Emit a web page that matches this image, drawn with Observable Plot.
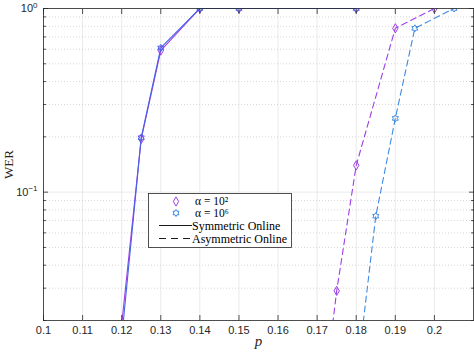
<!DOCTYPE html>
<html>
<head>
<meta charset="utf-8">
<script src="https://cdn.jsdelivr.net/npm/d3@7"></script>
<script src="https://cdn.jsdelivr.net/npm/@observablehq/plot@0.6"></script>
<style>
  html, body { margin: 0; padding: 0; background: white; }
  #chart { width: 474px; height: 355px; }
</style>
</head>
<body>
<div id="chart"></div>
<script>
// ---- Data ----
const pSym = [0.12, 0.125, 0.13, 0.14, 0.15, 0.18];
const werSymA2 = [0.019, 0.195, 0.59, 1, 1, 1];
const werSymA6 = [0.016, 0.198, 0.61, 1, 1, 1];

const pAsymA2 = [0.17, 0.175, 0.18, 0.19, 0.2];
const werAsymA2 = [0.0038, 0.029, 0.14, 0.78, 1];

const pAsymA6 = [0.18, 0.185, 0.19, 0.195, 0.205];
const werAsymA6 = [0.0093, 0.074, 0.252, 0.78, 1];

const xTicks = [0.1, 0.11, 0.12, 0.13, 0.14, 0.15, 0.16, 0.17, 0.18, 0.19, 0.2];
const xTickLabels = ["0.1", "0.11", "0.12", "0.13", "0.14", "0.15", "0.16", "0.17", "0.18", "0.19", "0.2"];
const yMajor = [0.1, 1];
const yMajorExp = ["-1", "0"];
const yMinor = [0.02, 0.03, 0.04, 0.05, 0.06, 0.07, 0.08, 0.09, 0.2, 0.3, 0.4, 0.5, 0.6, 0.7, 0.8, 0.9];

const legendAlpha = ["α = 10²", "α = 10⁶"];
const legendLabels = ["Symmetric Online", "Asymmetric Online"];

const purple = "#9b3fe6";
const blueSolid = "#4760e8";
const blueDash = "#3d8ae2";

// ---- Build table ----
function rows(ps, ws, alpha, type) { return ps.map((p, i) => ({p, wer: ws[i], alpha, type})); }
const symA2 = rows(pSym, werSymA2, "a2", "sym");
const symA6 = rows(pSym, werSymA6, "a6", "sym");
const asyA2 = rows(pAsymA2, werAsymA2, "a2", "asym");
const asyA6 = rows(pAsymA6, werAsymA6, "a6", "asym");

// hexagram symbol (six-pointed star outline)
const hexagram = {
  draw(context, size) {
    const r = Math.sqrt(size / Math.PI) * 1.25;
    const ri = r / Math.sqrt(3);
    for (let k = 0; k < 12; k++) {
      const a = -Math.PI / 2 + k * Math.PI / 6;
      const rr = k % 2 === 0 ? r : ri;
      const x = rr * Math.cos(a), y = rr * Math.sin(a);
      if (k === 0) context.moveTo(x, y); else context.lineTo(x, y);
    }
    context.closePath();
  }
};

const lineW = 1.1;
const dash = "6,4";
const serif = "'Liberation Serif', 'Times New Roman', serif";

const chart = Plot.plot({
  width: 474,
  height: 355,
  marginLeft: 43,
  marginRight: 1,
  marginTop: 8,
  marginBottom: 35,
  x: {domain: [0.1, 0.21]},
  y: {type: "log", domain: [0.02, 1]},
  style: {fontFamily: "'Liberation Sans', Arial, sans-serif", fontSize: "11px", color: "#262626", background: "white"},
  marks: [
    // grid
    Plot.gridX(xTicks, {stroke: "#e4e4e4", strokeOpacity: 1, strokeWidth: 0.8}),
    Plot.ruleY(yMinor, {stroke: "#cfcfcf", strokeWidth: 0.8, strokeDasharray: "1,2"}),
    Plot.ruleY(yMajor, {stroke: "#e4e4e4", strokeWidth: 0.8}),
    // data
    Plot.line(symA2, {x: "p", y: "wer", stroke: purple, strokeWidth: lineW, clip: true}),
    Plot.dot(symA2, {x: "p", y: "wer", symbol: "diamond", r: 2.8, stroke: purple, fill: "none", strokeWidth: 1, clip: true}),
    Plot.line(symA6, {x: "p", y: "wer", stroke: blueSolid, strokeWidth: lineW, clip: true}),
    Plot.dot(symA6, {x: "p", y: "wer", symbol: hexagram, r: 2.8, stroke: blueSolid, fill: "none", strokeWidth: 1, clip: true}),
    Plot.line(asyA2, {x: "p", y: "wer", stroke: purple, strokeWidth: lineW, strokeDasharray: dash, clip: true}),
    Plot.dot(asyA2, {x: "p", y: "wer", symbol: "diamond", r: 2.8, stroke: purple, fill: "none", strokeWidth: 1, clip: true}),
    Plot.line(asyA6, {x: "p", y: "wer", stroke: blueDash, strokeWidth: lineW, strokeDasharray: dash, clip: true}),
    Plot.dot(asyA6, {x: "p", y: "wer", symbol: hexagram, r: 2.8, stroke: blueDash, fill: "none", strokeWidth: 1, clip: true}),
    // frame
    Plot.frame({stroke: "#262626", strokeWidth: 0.8}),
    // inward ticks
    Plot.axisX(xTicks, {anchor: "bottom", tickSize: 5, dy: -5, fill: "none", label: null, strokeWidth: 0.8}),
    Plot.axisX(xTicks, {anchor: "top", tickSize: 5, dy: 5, fill: "none", label: null, strokeWidth: 0.8}),
    Plot.axisY(yMajor, {anchor: "left", tickSize: 5, dx: 5, fill: "none", label: null, strokeWidth: 0.8}),
    Plot.axisY(yMinor, {anchor: "left", tickSize: 3, dx: 3, fill: "none", label: null, strokeWidth: 0.8}),
    Plot.axisY(yMajor, {anchor: "right", tickSize: 5, dx: -5, fill: "none", label: null, strokeWidth: 0.8}),
    Plot.axisY(yMinor, {anchor: "right", tickSize: 3, dx: -3, fill: "none", label: null, strokeWidth: 0.8}),
    // tick labels
    Plot.axisX(xTicks, {anchor: "bottom", tickSize: 0, tickPadding: 6, tickFormat: d => xTickLabels[xTicks.indexOf(d)], label: null, fontSize: 11}),
    Plot.axisY(yMajor, {anchor: "left", tickSize: 0, tickPadding: 6, tickFormat: d => "10^" + yMajorExp[yMajor.indexOf(d)], label: null, fontSize: 11}),
    // axis titles
    Plot.text(["p"], {frameAnchor: "bottom", dy: 25, fontFamily: serif, fontStyle: "italic", fontSize: 15, fill: "#262626"}),
    Plot.text(["WER"], {frameAnchor: "left", textAnchor: "middle", lineAnchor: "middle", dx: -35, rotate: -90, fontFamily: serif, fontSize: 13, fill: "#262626"})
  ]
});

document.getElementById("chart").appendChild(chart);

// superscripts for y tick labels
d3.select(chart).selectAll('g[aria-label="y-axis tick label"] text').each(function () {
  const t = this.textContent;
  if (t.includes("^")) {
    const [base, exp] = t.split("^");
    const sel = d3.select(this);
    sel.text(base);
    sel.append("tspan").attr("dy", "-0.55em").attr("font-size", "8px").text(exp.replace("-", "\u2212"));
  }
});

// legend
const lg = d3.select(chart).append("g").attr("text-anchor", "start");
lg.append("rect").attr("x", 148.5).attr("y", 193.5).attr("width", 143).attr("height", 54)
  .attr("fill", "white").attr("stroke", "#262626").attr("stroke-width", 0.8);
lg.append("path").attr("d", d3.symbol(d3.symbolDiamond, 2.8 * 2.8 * Math.PI)())
  .attr("transform", "translate(176,201.5)").attr("fill", "none").attr("stroke", purple).attr("stroke-width", 1);
lg.append("path").attr("d", d3.symbol(hexagram, 2.8 * 2.8 * Math.PI)())
  .attr("transform", "translate(176,213)").attr("fill", "none").attr("stroke", blueDash).attr("stroke-width", 1);
lg.append("line").attr("x1", 159).attr("x2", 192).attr("y1", 225.5).attr("y2", 225.5)
  .attr("stroke", "#000").attr("stroke-width", 0.9);
lg.append("line").attr("x1", 159).attr("x2", 192).attr("y1", 238.5).attr("y2", 238.5)
  .attr("stroke", "#000").attr("stroke-width", 0.9).attr("stroke-dasharray", "7,5");
lg.append("text").attr("x", 195).attr("y", 205).attr("text-anchor", "start").attr("font-family", serif).attr("font-size", 11.5).attr("fill", "#000").text(legendAlpha[0]);
lg.append("text").attr("x", 195).attr("y", 217).attr("text-anchor", "start").attr("font-family", serif).attr("font-size", 11.5).attr("fill", "#000").text(legendAlpha[1]);
lg.append("text").attr("x", 192).attr("y", 229.5).attr("text-anchor", "start").attr("font-family", serif).attr("font-size", 12).attr("fill", "#000").text(legendLabels[0]);
lg.append("text").attr("x", 192).attr("y", 242.5).attr("text-anchor", "start").attr("font-family", serif).attr("font-size", 12).attr("fill", "#000").text(legendLabels[1]);
</script>
</body>
</html>
